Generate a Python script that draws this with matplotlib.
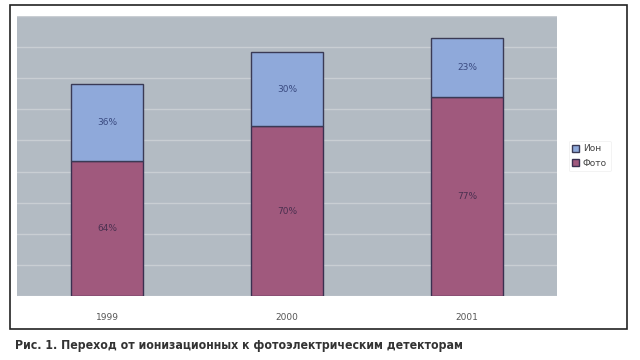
import matplotlib
matplotlib.use('Agg')
import matplotlib.pyplot as plt
from matplotlib.patches import Rectangle

# data
years = ['1999', '2000', '2001']
foto = [4.35, 5.45, 6.40]     # lower segment
ion = [2.45, 2.40, 1.90]      # upper segment
foto_lbl = ['64%', '70%', '77%']
ion_lbl = ['36%', '30%', '23%']

c_ion = '#8FA9DA'
c_foto = '#A0597D'
c_bg = '#B3BBC3'

fig = plt.figure(figsize=(6.4, 3.6), dpi=100)
fig.patch.set_facecolor('white')
# outer frame
fig.patches.append(Rectangle((10/640, 1-329/360), 617/640, 324/360, transform=fig.transFigure,
                             fill=False, edgecolor='#222222', linewidth=1.2))

ax = fig.add_axes([17/640, 1-296/360, 540/640, 280/360])
ax.set_facecolor(c_bg)
x = range(len(years))
b1 = ax.bar(x, foto, width=0.395, color=c_foto, edgecolor='#3a3050', linewidth=1, label='Фото', zorder=3)
b2 = ax.bar(x, ion, bottom=foto, width=0.395, color=c_ion, edgecolor='#3a3a55', linewidth=1, label='Ион', zorder=3)

for i in x:
    ax.text(i, foto[i]/2, foto_lbl[i], ha='center', va='center', fontsize=6.5, color='#4a3050', zorder=4)
    ax.text(i, foto[i] + ion[i]/2, ion_lbl[i], ha='center', va='center', fontsize=6.5, color='#3a4a80', zorder=4)

ax.set_xlim(-0.5, 2.5)
ax.set_ylim(0, 9)
ax.set_yticks(range(10))
ax.yaxis.grid(True, color='#C9CED3', linewidth=1, zorder=0)
ax.tick_params(axis='y', left=False, labelleft=False)
ax.tick_params(axis='x', bottom=False, labelsize=6.5, labelcolor='#555555', pad=9)
ax.set_xticks(list(x))
ax.set_xticklabels(years)
for s in ax.spines.values():
    s.set_visible(False)

h, l = ax.get_legend_handles_labels()
leg = fig.legend(h[::-1], l[::-1], loc='center left', bbox_to_anchor=(564/640, 1-156/360),
                 fontsize=6.5, frameon=True, handlelength=0.8, handleheight=0.8,
                 handletextpad=0.4, labelspacing=0.6, borderpad=0.4)
leg.get_frame().set_edgecolor('#eeeeee')
leg.get_frame().set_linewidth(0.6)
for t in leg.get_texts():
    t.set_color('#444444')

fig.text(15/640, 1-345/360, 'Рис. 1. Переход от ионизационных к фотоэлектрическим детекторам',
         family='DejaVu Sans', stretch='condensed', fontsize=8.8, fontweight='bold',
         color='#333333', va='center', ha='left')

fig.savefig('out.png', dpi=100)
